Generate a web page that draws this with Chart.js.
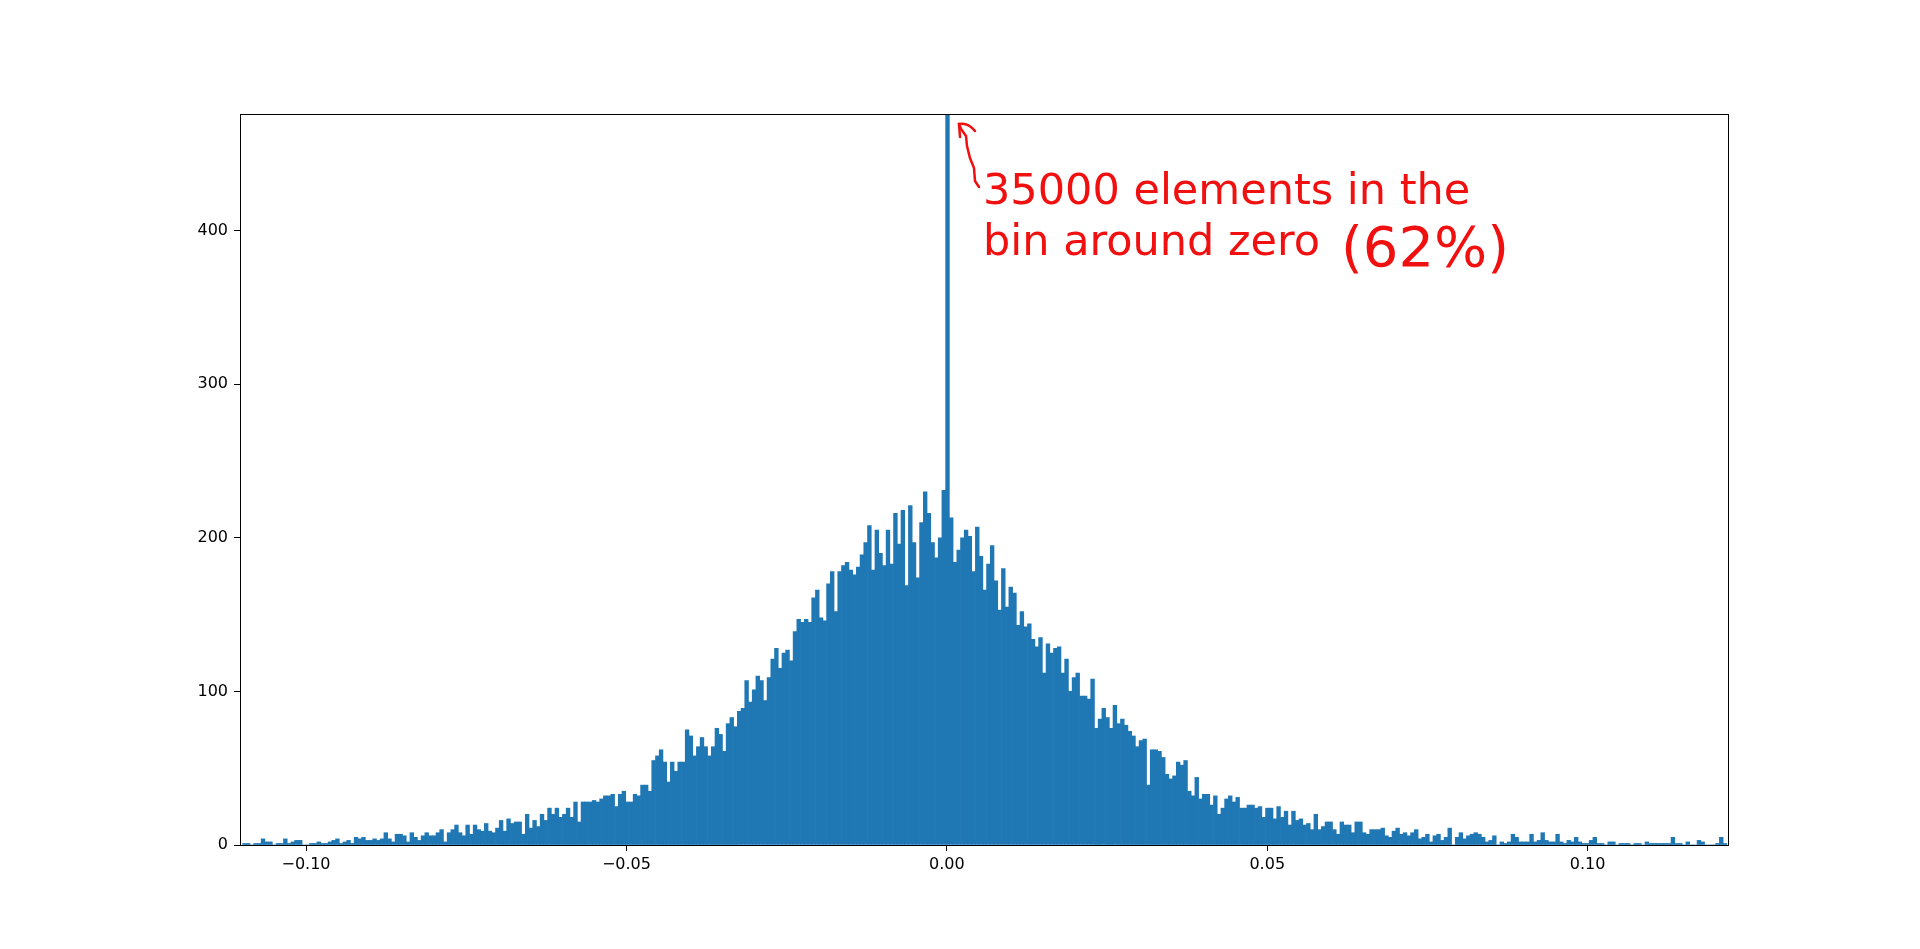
<!DOCTYPE html>
<html>
<head>
  <meta charset="utf-8">
  <title>Histogram</title>
  <script src="https://cdn.jsdelivr.net/npm/chart.js"></script>
  <style>
    body { margin: 0; background: #fff; }
    #wrap { width: 1920px; height: 949px; }
  </style>
</head>
<body>
  <div id="wrap"><canvas id="hist"></canvas></div>

  <script>
    // histogram: bin layout and counts
    const binStart = -0.1099, binWidth = 0.0005805;
    const xMin = -0.1103, xMax = 0.1219, yMax = 476;
    const xTicks = [-0.10, -0.05, 0.00, 0.05, 0.10];
    const yTicks = [0, 100, 200, 300, 400];

    const leftTail = [1,1,0,1,1,4,2,2,0,1,1,4,1,2,3,3,0,0,1,1,2,1,1,2,3,4,1,2,3,1,5,4,5,3,3,4,3,4,8,4,2,7,7,6,2,8,5,3,6,8,6,6,8,10,2,8,10,13,8,6,13,7,13,10,9,14,9,8,11,16,9,17,14,15,15,7,20,11,16,12,20,16,24,20,24,18];
    const riseBins = [20,24,18,28,15,28,28,28,29,28,30,32,32,33,25,33,35,28,28,33,32,39,39,35,55,58,62,54,41,54,48,54,54,75,71,58,64,70,64,58,64,76,72,61,79,83,77,87,89,107,93,101,110,107,94,109,121,128,115,125,127,120,139,147,145,147,145];
    const peakBins = [161,166,148,146,170,178,152,178,182,184,179,176,181,189,197,208,179,205,190,182,205,183,216,196,218,169,221,197,174,210,230,216,197,187,200,231,35000,213,184,192,200,205,201,178,207,188,166,183,195,172,153,180,155,168,164,143,152,142,144,134,129,135,112,131,125,128];
    const fallBins = [129,112,121,100,109,112,97,97,95,108,76,82,89,83,76,91,79,82,78,74,71,64,68,69,39,62,62,61,57,46,43,45,54,52,55,35,32,44,30,33,33,26,32,20,24,30,32,28,31,24,24,26,26,24,25,18,24,24,17,25,18,22,13,22,16,17];
    const rightTail = [13,14,10,20,10,12,15,15,10,7,15,13,13,8,15,15,8,7,10,10,10,11,6,5,9,11,7,8,6,8,10,4,5,7,2,6,7,3,5,11,0,5,8,4,6,7,8,7,5,2,3,6,0,2,1,2,7,5,2,2,2,7,2,3,8,3,2,2,7,2,1,3,2,5,2,1,1,3,5,1,1,0,2,2,0,1,1,1,0,1,1,0,2,1,1,1,1,1,1,5,1,1,0,2,0,0,3,2,0,0,0,1,5,1];

    const counts = [...leftTail, ...riseBins, ...peakBins, ...fallBins, ...rightTail];
    const points = counts.map((c, i) => ({ x: binStart + (i + 0.5) * binWidth, y: c }));

    const fmt = v => (v < 0 ? '\u2212' : '') + Math.abs(v).toFixed(2);

    // frame on all four sides, like matplotlib
    const framePlugin = {
      id: 'frame',
      afterDatasetsDraw(chart) {
        const { ctx, chartArea: a } = chart;
        ctx.save();
        ctx.strokeStyle = '#000';
        ctx.lineWidth = 1;
        ctx.strokeRect(a.left + 0.5, a.top + 0.5, a.right - a.left, a.bottom - a.top);
        ctx.restore();
      }
    };

    // red hand-drawn annotation
    const notePlugin = {
      id: 'note',
      afterDraw(chart) {
        const ctx = chart.ctx;
        ctx.save();
        ctx.strokeStyle = '#f01010';
        ctx.fillStyle = '#f01010';
        ctx.lineWidth = 2.5;
        ctx.lineCap = 'round';
        ctx.translate(4, 0);
        ctx.beginPath();
        ctx.moveTo(975, 187);
        ctx.lineTo(971, 181);
        ctx.lineTo(970, 168);
        ctx.lineTo(966, 158);
        ctx.lineTo(963, 146);
        ctx.lineTo(962, 136);
        ctx.lineTo(957, 129);
        ctx.lineTo(955, 124);
        ctx.stroke();
        ctx.beginPath();
        ctx.moveTo(956, 137);
        ctx.lineTo(955, 124);
        ctx.quadraticCurveTo(964, 122, 971, 131);
        ctx.stroke();
        ctx.restore();
        ctx.save();
        ctx.fillStyle = '#f01010';
        ctx.font = '43px "DejaVu Sans"';
        ctx.fillText('35000 elements in the', 983, 204);
        ctx.fillText('bin around zero', 983, 255);
        ctx.font = '56px "DejaVu Sans"';
        ctx.fillText('(62%)', 1341, 266);
        ctx.restore();
      }
    };

    new Chart(document.getElementById('hist'), {
      type: 'bar',
      data: {
        datasets: [{
          data: points,
          backgroundColor: '#1f77b4',
          borderWidth: 0,
          barPercentage: 1.0,
          categoryPercentage: 1.0
        }]
      },
      options: {
        responsive: true,
        maintainAspectRatio: false,
        animation: false,
        layout: { padding: { left: 0, right: 192, top: 114, bottom: 0 } },
        plugins: { legend: { display: false }, tooltip: { enabled: false } },
        scales: {
          x: {
            type: 'linear',
            min: xMin, max: xMax,
            offset: false,
            afterBuildTicks: s => { s.ticks = xTicks.map(v => ({ value: v })); },
            afterFit: s => { s.height = 104; },
            grid: { offset: false, drawOnChartArea: false, drawTicks: true, tickLength: 6, color: '#000' },
            border: { color: '#000' },
            ticks: { color: '#000', font: { family: 'DejaVu Sans', size: 16 }, padding: 4, maxRotation: 0, callback: v => fmt(v) }
          },
          y: {
            min: 0, max: yMax,
            afterBuildTicks: s => { s.ticks = yTicks.map(v => ({ value: v })); },
            afterFit: s => { s.width = 240; },
            grid: { drawOnChartArea: false, drawTicks: true, tickLength: 6, color: '#000' },
            border: { color: '#000' },
            ticks: { color: '#000', font: { family: 'DejaVu Sans', size: 16 }, padding: 6 }
          }
        }
      },
      plugins: [framePlugin, notePlugin]
    });
  </script>
</body>
</html>
